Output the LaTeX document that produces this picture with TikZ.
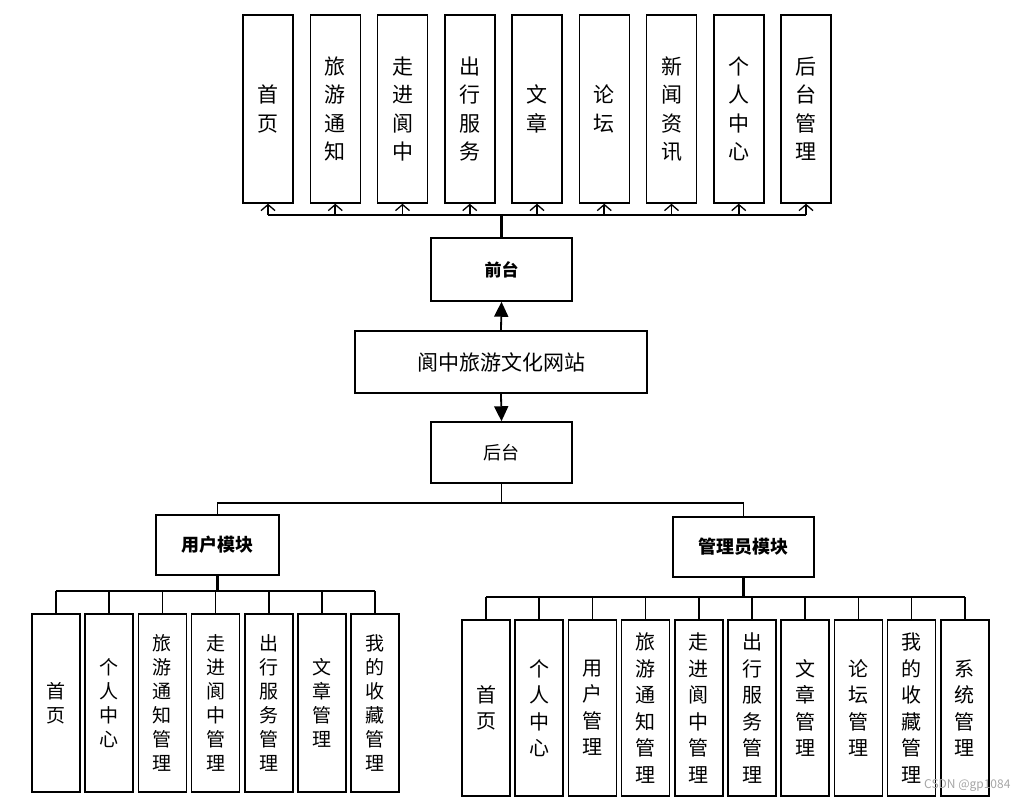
\documentclass[tikz,border=0pt]{standalone}
\usepackage{fontspec}
\setmainfont{Noto Sans CJK SC}
\usetikzlibrary{arrows.meta}
\tikzset{
  box/.style={draw=black,line width=1.5pt,fill=white,inner sep=0pt,align=center},
  topbox/.style={box,minimum width=50pt,minimum height=188pt,font=\fontsize{21}{28.5}\selectfont},
  ubox/.style={box,minimum width=48pt,minimum height=178pt,font=\fontsize{19}{24}\selectfont},
  abox/.style={box,minimum width=48pt,minimum height=176pt,font=\fontsize{20}{26.5}\selectfont},
  wire/.style={line width=1.6pt},
  openarrow/.style={wire,-{Straight Barb[length=6pt,width=14pt,line width=1.3pt]}},
  fullarrow/.style={line width=1.8pt,-{Triangle[length=15pt,width=14pt]}}
}
\begin{document}
\begin{tikzpicture}[x=1pt,y=-1pt]
    \useasboundingbox (0,0) rectangle (1028,803);
    % top row
    \foreach \lbl [count=\i] in {{首\\页},{旅\\游\\通\\知},{走\\进\\阆\\中},{出\\行\\服\\务},{文\\章},{论\\坛},{新\\闻\\资\\讯},{个\\人\\中\\心},{后\\台\\管\\理}}
      \node[topbox] (t\i) at ({268+67.25*(\i-1)},109) {\lbl};
    \node[box,minimum width=141pt,minimum height=63pt,font=\fontsize{17}{19}\selectfont\bfseries] (qt) at (501.5,269.5) {前台};
    \node[box,minimum width=292pt,minimum height=62pt,font=\fontsize{21}{24}\selectfont] (site) at (501,362) {阆中旅游文化网站};
    \node[box,minimum width=141pt,minimum height=61pt,font=\fontsize{18}{20}\selectfont] (ht) at (501.5,452.5) {后台};
    \node[box,minimum width=123pt,minimum height=60pt,font=\fontsize{18}{20}\selectfont\bfseries] (um) at (217.5,545) {用户模块};
    \node[box,minimum width=141pt,minimum height=60pt,font=\fontsize{18}{20}\selectfont\bfseries] (am) at (743.5,547) {管理员模块};
    % user module
    \foreach \lbl [count=\i] in {{首\\页},{个\\人\\中\\心},{旅\\游\\通\\知\\管\\理},{走\\进\\阆\\中\\管\\理},{出\\行\\服\\务\\管\\理},{文\\章\\管\\理},{我\\的\\收\\藏\\管\\理}}
      \node[ubox] (u\i) at ({56+53.2*(\i-1)},703) {\lbl};
    % admin module
    \foreach \lbl [count=\i] in {{首\\页},{个\\人\\中\\心},{用\\户\\管\\理},{旅\\游\\通\\知\\管\\理},{走\\进\\阆\\中\\管\\理},{出\\行\\服\\务\\管\\理},{文\\章\\管\\理},{论\\坛\\管\\理},{我\\的\\收\\藏\\管\\理},{系\\统\\管\\理}}
      \node[abox] (a\i) at ({486+53.2*(\i-1)},708) {\lbl};
    % connectors
    \coordinate (topbus) at (0,215);
    \draw[line width=2.2pt] (qt.north) -- (qt.north |- topbus);
    \draw[wire] (t1.south |- topbus) -- (t9.south |- topbus);
    \foreach \i in {1,...,9}
      \draw[openarrow] (t\i.south |- topbus) -- (t\i.south);
    \draw[fullarrow] (site.north) -- (qt.south);
    \draw[fullarrow] (site.south) -- (ht.north);
    \coordinate (midbus) at (0,503);
    \draw[wire] (ht.south) -- (ht.south |- midbus);
    \draw[wire] (um.north) -- (um.north |- midbus) -- (am.north |- midbus) -- (am.north);
    \coordinate (ubus) at (0,591);
    \draw[line width=2.2pt] (um.south) -- (um.south |- ubus);
    \draw[wire] (u1.north |- ubus) -- (u7.north |- ubus);
    \foreach \i in {1,...,7}
      \draw[wire] (u\i.north |- ubus) -- (u\i.north);
    \coordinate (abus) at (0,597);
    \draw[line width=2.6pt] (am.south) -- (am.south |- abus);
    \draw[wire] (a1.north |- abus) -- (a10.north |- abus);
    \foreach \i in {1,...,10}
      \draw[wire] (a\i.north |- abus) -- (a\i.north);
    \node[text=gray!70,font=\fontsize{12}{14}\selectfont,anchor=east] (wm) at (1014,786) {CSDN @gp1084};
\end{tikzpicture}
\end{document}
